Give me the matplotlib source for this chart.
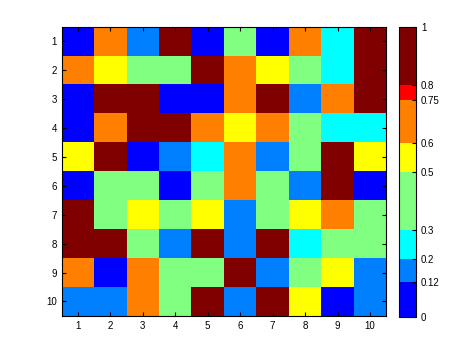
import numpy as np
import matplotlib.pyplot as plt
from matplotlib.colors import ListedColormap, BoundaryNorm

# Grænser og farver for den diskrete farveskala
bounds = [0, 0.12, 0.2, 0.3, 0.5, 0.6, 0.75, 0.8, 1]
colors = [(0, 0, 1), (0, 0.5, 1), (0, 1, 1), (0.5, 1, 0.5),
          (1, 1, 0), (1, 0.5, 0), (1, 0, 0), (0.5, 0, 0)]
tick_labels = ['0', '0.12', '0.2', '0.3', '0.5', '0.6', '0.75', '0.8', '1']

# Værdier i hver celle (en repræsentativ værdi inden for hvert interval)
B, D, C, G, Y, O, R, K = 0.05, 0.15, 0.25, 0.4, 0.55, 0.7, 0.78, 0.9
row1 = [B, O, D, K, B, G, B, O, C, K]
row2 = [O, Y, G, G, K, O, Y, G, C, K]
row3 = [B, K, K, B, B, O, K, D, O, K]
row4 = [B, O, K, K, O, Y, O, G, C, C]
row5 = [Y, K, B, D, C, O, D, G, K, Y]
row6 = [B, G, G, B, G, O, G, D, K, B]
row7 = [K, G, Y, G, Y, D, G, Y, O, G]
row8 = [K, K, G, D, K, D, K, C, G, G]
row9 = [O, B, O, G, G, K, D, G, Y, D]
row10 = [D, D, O, G, K, D, K, Y, B, D]
data = np.array([row1, row2, row3, row4, row5, row6, row7, row8, row9, row10])

plt.rcParams['font.family'] = ['Liberation Sans', 'DejaVu Sans']

cmap = ListedColormap(colors)
norm = BoundaryNorm(bounds, cmap.N)

fig = plt.figure(figsize=(4.74, 3.55), dpi=100)
ax = fig.add_axes([0.130, 0.110, 0.685, 0.815])
cax = fig.add_axes([0.842, 0.108, 0.036, 0.815])

n = data.shape[0]
mesh = ax.pcolormesh(np.arange(0.5, n + 1), np.arange(0.5, n + 1), data,
                     cmap=cmap, norm=norm)
ax.set_xlim(0.5, n + 0.5)
ax.set_ylim(n + 0.5, 0.5)
ax.set_xticks(range(1, n + 1))
ax.set_yticks(range(1, n + 1))
ax.tick_params(direction='in', labelsize=7, length=3, top=True, right=True)

cb = fig.colorbar(mesh, cax=cax, boundaries=bounds, ticks=bounds, spacing='proportional')
cb.set_ticklabels(tick_labels)
cb.ax.tick_params(direction='in', labelsize=7, length=3)
cb.outline.set_linewidth(0.8)

fig.savefig('out.png', dpi=100)
